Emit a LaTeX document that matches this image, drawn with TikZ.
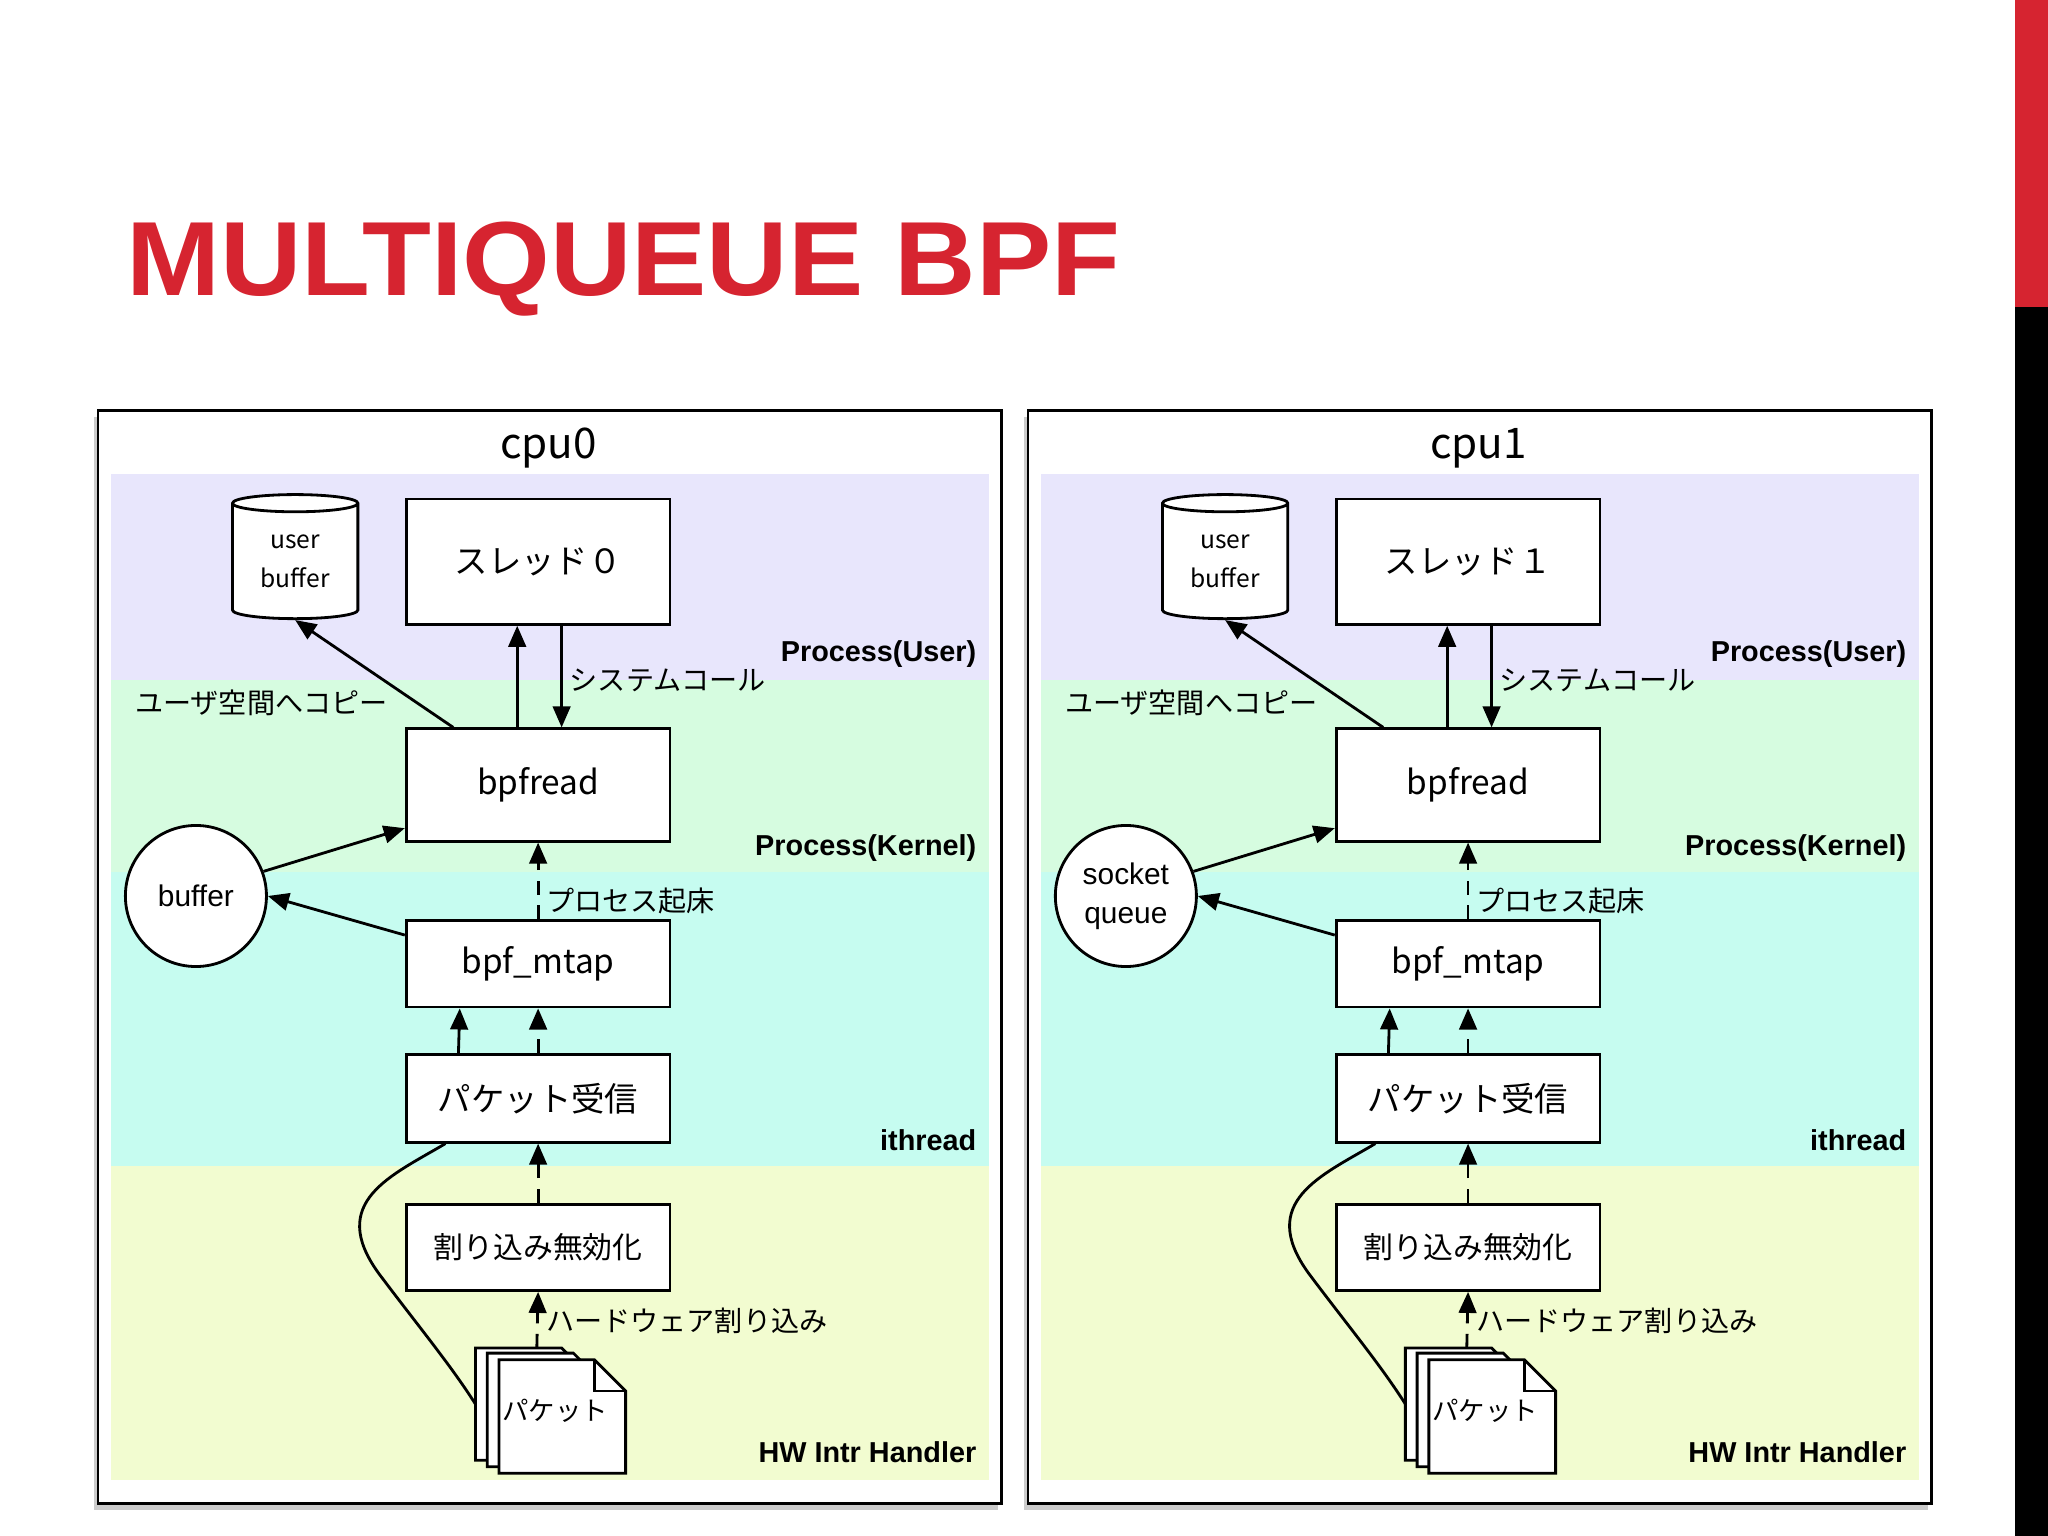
\documentclass[tikz,border=0pt]{standalone}
\usepackage{fontspec}
\setmainfont{Noto Sans CJK JP}
\newfontfamily\lsans{Liberation Sans}
\usetikzlibrary{shapes.geometric,arrows.meta,shadows}
\definecolor{tred}{RGB}{214,36,48}
\definecolor{bu}{RGB}{232,230,252}
\definecolor{bk}{RGB}{214,252,224}
\definecolor{bi}{RGB}{198,252,240}
\definecolor{bh}{RGB}{242,252,208}
\tikzset{
 box/.style={draw,thick,fill=white,minimum width={202*0.01306cm},inner sep=0pt,font=\fontsize{9.5}{12}\selectfont},
 lab/.style={font=\fontsize{8}{10}\selectfont,inner sep=1pt},
 blab/.style={font=\lsans\bfseries\fontsize{8.2}{10}\selectfont,anchor=east,inner sep=0pt},
 arr/.style={thick,-{Triangle[length=6pt,width=5pt]}},
 darr/.style={arr,dash pattern=on 4pt off 3pt},
 page/.style={draw,thick,fill=white}
}
\newcommand\cpupanel[5]{%
\begin{scope}[shift={(#2,0)}]
 \draw[thick,fill=white,drop shadow={shadow xshift=-1pt,shadow yshift=-2pt,opacity=0.4}] (75,314) rectangle (767,1151);
 \fill[bu] (85,363) rectangle (757,521);
 \fill[bk] (85,521) rectangle (757,668);
 \fill[bi] (85,668) rectangle (757,893);
 \fill[bh] (85,893) rectangle (757,1133);
 \node[font=\fontsize{12}{14}\selectfont] (cpu#1) at (420,343) {#3};
 \node[blab] (pu#1) at (748,501) {Process(User)};
 \node[blab] (pk#1) at (748,649) {Process(Kernel)};
 \node[blab] (it#1) at (748,873) {ithread};
 \node[blab] (hw#1) at (748,1112) {HW Intr Handler};
 \node[draw,thick,fill=white,cylinder,shape border rotate=90,aspect=0.25,minimum width={96*0.01306cm},minimum height={95*0.01306cm},align=center,font=\fontsize{7}{11}\selectfont,inner sep=0pt] (ub#1) at (226,430) {user\\buffer};
 \node[box,minimum height={96*0.01306cm}] (th#1) at (412,430) {#4};
 \node[box,minimum height={86*0.01306cm}] (rd#1) at (412,601) {bpfread};
 \node[box,minimum height={66*0.01306cm}] (mt#1) at (412,738) {bpf\_mtap};
 \node[box,minimum height={67*0.01306cm}] (rx#1) at (412,841) {パケット受信};
 \node[box,minimum height={66*0.01306cm},font=\fontsize{8.5}{10}\selectfont] (di#1) at (412,955) {割り込み無効化};
 \node[draw,thick,fill=white,circle,minimum size={108*0.01306cm},align=center,inner sep=0pt,font=\lsans\fontsize{8.5}{11}\selectfont] (bf#1) at (150,686) {#5};
 % packets
 \draw[page] (364,1032) -- (430,1032) -- (453,1055) -- (453,1118) -- (364,1118) -- cycle;
 \draw[page] (373,1036) -- (439,1036) -- (462,1059) -- (462,1123) -- (373,1123) -- cycle;
 \draw[page] (382,1041) -- (455,1041) -- (479,1065) -- (479,1128) -- (382,1128) -- cycle;
 \draw[thick] (455,1041) -- (455,1065) -- (479,1065);
 \node[font=\fontsize{7.5}{9}\selectfont] (pk#1x) at (425,1080) {パケット};
 \coordinate (ptop#1) at (411,1032);
 \coordinate (pleft#1) at (364,1075);
 % connectors
 \draw[arr] ([xshift={-65*0.01306cm}]rd#1.north) -- (ub#1.south);
 \node[lab,anchor=east] at (300,538) {ユーザ空間へコピー};
 \draw[arr] ([xshift={-16*0.01306cm}]rd#1.north) -- ([xshift={-16*0.01306cm}]th#1.south);
 \draw[arr] ([xshift={18*0.01306cm}]th#1.south) -- ([xshift={18*0.01306cm}]rd#1.north);
 \node[lab,anchor=west] at (433,521) {システムコール};
 \draw[arr] (bf#1.20) -- ([yshift={11*0.01306cm}]rd#1.south west);
 \draw[arr] ([yshift={-12*0.01306cm}]mt#1.north west) -- (bf#1.east);
 \draw[darr] (mt#1.north) -- (rd#1.south);
 \node[lab,anchor=west] at (415,690) {プロセス起床};
 \draw[arr] ([xshift={-61*0.01306cm}]rx#1.north) -- ([xshift={-60*0.01306cm}]mt#1.south);
 \draw[darr] (rx#1.north) -- (mt#1.south);
 \draw[darr] (di#1.north) -- (rx#1.south);
 \draw[darr] (ptop#1) -- (di#1.south);
 \node[lab,anchor=west] at (415,1011) {ハードウェア割り込み};
 \draw[thick] ([xshift={-71*0.01306cm}]rx#1.south) .. controls (300,900) and (250,920) .. (290,975) .. controls (320,1015) and (345,1045) .. (pleft#1);
\end{scope}}
\begin{document}
\begin{tikzpicture}[x=0.01306cm,y=-0.01306cm]
\useasboundingbox (0,0) rectangle (1568,1176);
\fill[tred] (1543,0) rectangle (1568,235);
\fill[black] (1543,235) rectangle (1568,1176);
\node[anchor=west,text=tred,font=\lsans\bfseries\fontsize{30}{34}\selectfont,inner sep=0pt,xscale=1.07] (title) at (96,206) {MULTIQUEUE BPF};
\cpupanel{a}{0}{cpu0}{スレッド０}{buffer}
\cpupanel{b}{712}{cpu1}{スレッド１}{socket\\queue}
\end{tikzpicture}
\end{document}
